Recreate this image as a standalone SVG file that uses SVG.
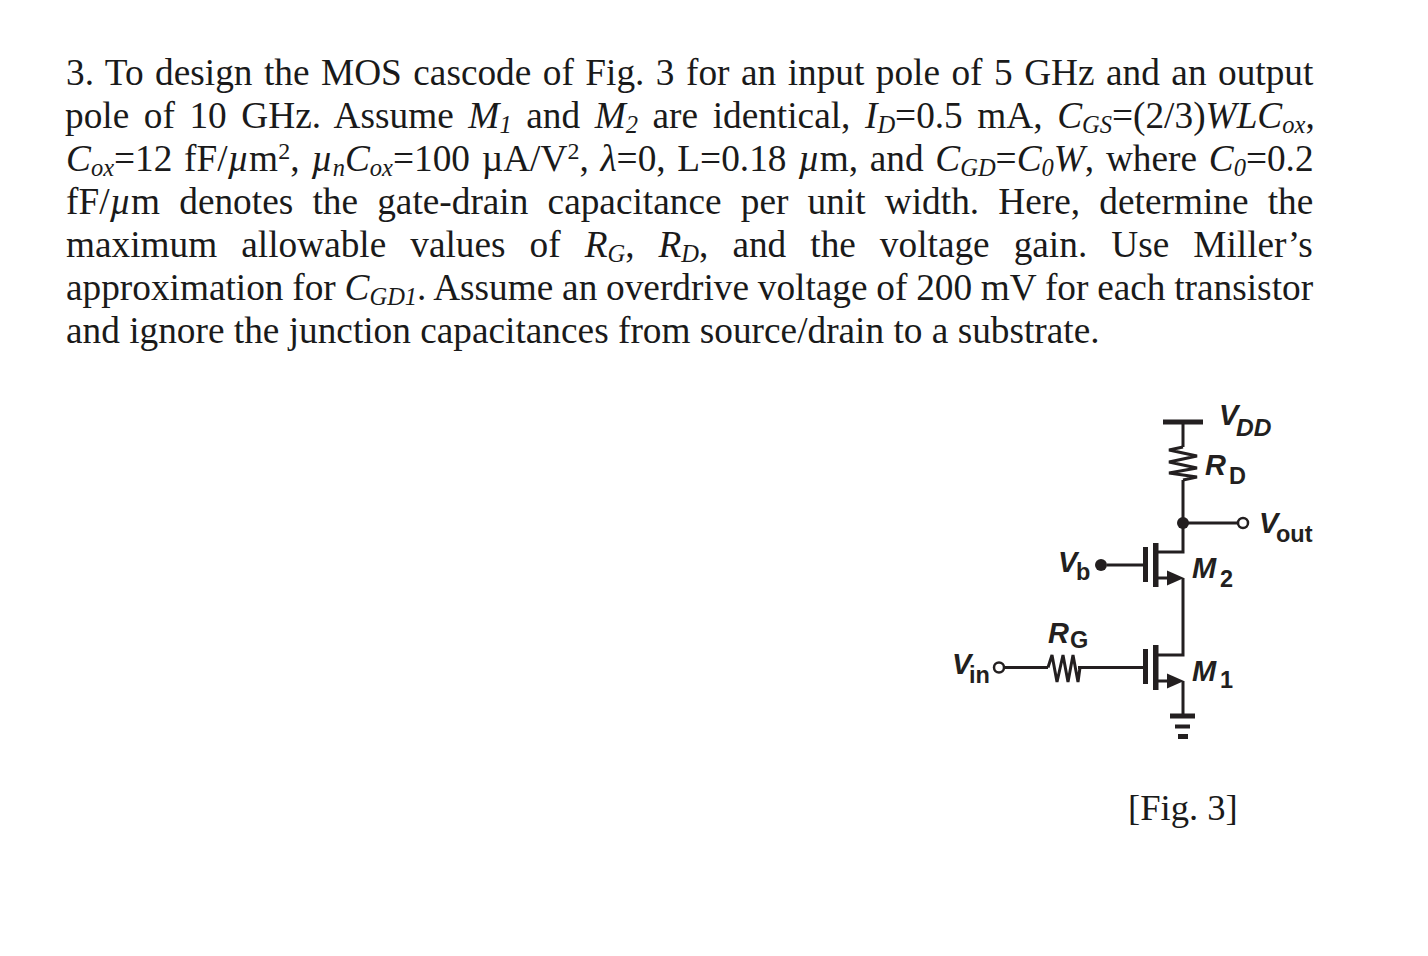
<svg xmlns="http://www.w3.org/2000/svg" width="1428" height="956" viewBox="0 0 1428 956">
<style>
.t{font-family:"Liberation Serif","Times New Roman",serif;font-size:37.3px;fill:#1a1a1a}
.i{font-style:italic}
.s{font-size:24.5px;font-style:italic}
.l{font-family:"Liberation Sans",Arial,sans-serif;font-size:29px;font-weight:bold;font-style:italic;fill:#231f20}
.q{font-family:"Liberation Sans",Arial,sans-serif;font-size:23.5px;font-weight:bold;fill:#231f20}
.w{fill:none;stroke:#231f20;stroke-width:3}
.f{fill:#231f20}
.o{fill:#fff;stroke:#231f20;stroke-width:2.5}
</style>
<rect width="1428" height="956" fill="#fff"/>
<g id="problem-text" class="t">
<text x="66" y="85" word-spacing="2.15">3. To design the MOS cascode of Fig. 3 for an input pole of 5 GHz and an output</text>
<text x="65" y="128" word-spacing="5.25">pole of 10 GHz. Assume <tspan class="i">M</tspan><tspan class="s" dy="5">1</tspan><tspan dy="-5"> and </tspan><tspan class="i">M</tspan><tspan class="s" dy="5">2</tspan><tspan dy="-5"> are identical, </tspan><tspan class="i">I</tspan><tspan class="s" dy="5">D</tspan><tspan dy="-5">=0.5 mA, </tspan><tspan class="i">C</tspan><tspan class="s" dy="5">GS</tspan><tspan dy="-5">=(2/3)</tspan><tspan class="i">WLC</tspan><tspan class="s" dy="5">ox</tspan><tspan dy="-5">,</tspan></text>
<text x="66" y="171" word-spacing="2.4"><tspan class="i">C</tspan><tspan class="s" dy="5">ox</tspan><tspan dy="-5">=12 fF/</tspan><tspan class="i">µ</tspan>m<tspan font-size="24" dy="-12">2</tspan><tspan dy="12">, </tspan><tspan class="i">µ</tspan><tspan class="s" dy="5">n</tspan><tspan class="i" dy="-5">C</tspan><tspan class="s" dy="5">ox</tspan><tspan dy="-5">=100 µA/V</tspan><tspan font-size="24" dy="-12">2</tspan><tspan dy="12">, </tspan><tspan class="i">λ</tspan>=0, L=0.18 <tspan class="i">µ</tspan>m, and <tspan class="i">C</tspan><tspan class="s" dy="5">GD</tspan><tspan dy="-5">=</tspan><tspan class="i">C</tspan><tspan class="s" dy="5">0</tspan><tspan class="i" dy="-5">W</tspan>, where <tspan class="i">C</tspan><tspan class="s" dy="5">0</tspan><tspan dy="-5">=0.2</tspan></text>
<text x="66" y="214" word-spacing="9.9">fF/<tspan class="i">µ</tspan>m denotes the gate-drain capacitance per unit width. Here, determine the</text>
<text x="66" y="257" word-spacing="14.7">maximum allowable values of <tspan class="i">R</tspan><tspan class="s" dy="5">G</tspan><tspan dy="-5">, </tspan><tspan class="i">R</tspan><tspan class="s" dy="5">D</tspan><tspan dy="-5">, and the voltage gain. Use Miller’s</tspan></text>
<text x="66" y="300" word-spacing="-0.55">approximation for <tspan class="i">C</tspan><tspan class="s" dy="5">GD1</tspan><tspan dy="-5">. Assume an overdrive voltage of 200 mV for each transistor</tspan></text>
<text x="66" y="343">and ignore the junction capacitances from source/drain to a substrate.</text>
<text x="1128" y="820" font-size="36.6">[Fig. 3]</text>
</g>
<g id="connectors">
<path class="w" d="M1183 422V447M1183 480V552H1156M1183 523H1238M1107 565H1146M1183 578V655H1156M1183 681V716M1004 667.5H1048M1078 667.5H1146M1156 578H1170M1156 681H1170"/>
</g>
<g id="VDD">
<rect class="f" x="1163" y="419.500" width="40" height="5"/>
<text class="l" x="1219" y="425">V</text><text class="q" style="font-style:italic;font-size:24.5px" x="1236" y="436">DD</text>
</g>
<g id="RD">
<path class="w" d="M1183 447L1169 450L1197 456L1169 462L1197 468L1169 473L1197 477L1183 480"/>
<text class="l" x="1205" y="475">R</text><text class="q" x="1229" y="484">D</text>
</g>
<g id="Vout">
<circle class="f" cx="1183" cy="523" r="6"/>
<circle class="o" cx="1243" cy="523" r="5"/>
<text class="l" x="1259" y="533">V</text><text class="q" x="1276" y="542">out</text>
</g>
<g id="Vb">
<circle class="f" cx="1101" cy="565" r="6"/>
<text class="l" x="1058" y="572">V</text><text class="q" x="1076" y="580">b</text>
</g>
<g id="M2">
<rect class="f" x="1143" y="547" width="5" height="35"/>
<rect class="f" x="1153" y="543" width="5.500" height="44"/>
<path class="f" d="M1167 570.500L1184 578L1167 585.500Z"/>
<text class="l" x="1192" y="578">M</text><text class="q" x="1220" y="587">2</text>
</g>
<g id="RG">
<path class="w" d="M1048 667.500L1052 655L1057 682L1063 655L1068 682L1073 655L1078 682L1080 667.500"/>
<text class="l" x="1048" y="643">R</text><text class="q" x="1070" y="648">G</text>
</g>
<g id="Vin">
<circle class="o" cx="999" cy="667.500" r="5"/>
<text class="l" x="952" y="674">V</text><text class="q" x="969" y="683">in</text>
</g>
<g id="M1">
<rect class="f" x="1143" y="649" width="5" height="35"/>
<rect class="f" x="1153" y="645" width="5.500" height="45"/>
<path class="f" d="M1167 673.500L1184 681L1167 688.500Z"/>
<text class="l" x="1192" y="681">M</text><text class="q" x="1220" y="688">1</text>
</g>
<g id="ground">
<rect class="f" x="1170" y="713.500" width="25" height="5"/>
<rect class="f" x="1175" y="724.500" width="15" height="4"/>
<rect class="f" x="1178" y="734" width="10" height="5"/>
</g>
</svg>
